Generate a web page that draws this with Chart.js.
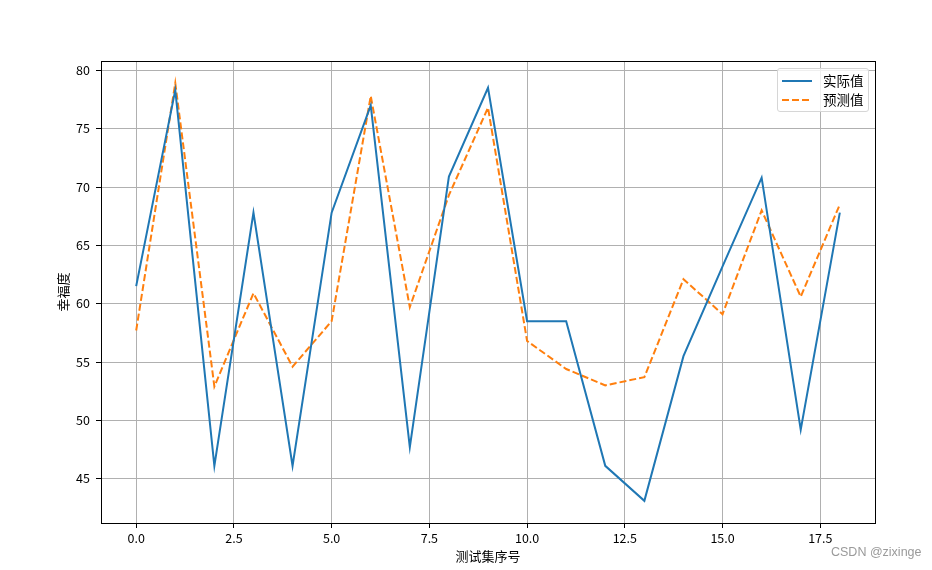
<!DOCTYPE html>
<html>
<head>
<meta charset="utf-8">
<script src="https://cdn.jsdelivr.net/npm/chart.js@4/dist/chart.umd.min.js"></script>
<style>
  body { margin: 0; background: #fff; }
  #wrap { position: relative; width: 932px; height: 570px; font-family: "Noto Sans CJK SC", sans-serif; }
  #legend {
    position: absolute; left: 777px; top: 68px; width: 90px; height: 42px;
    border: 1px solid #d6d6d6; border-radius: 3px; background: rgba(255,255,255,0.8);
    font-size: 13.5px; color: #000;
  }
  .row { position: absolute; left: 3px; height: 20px; line-height: 20px; }
  .row svg { position: absolute; left: 0; top: 0; }
  .row span { position: absolute; left: 42px; top: -1px; white-space: nowrap; }
  #mark { position: absolute; left: 831px; top: 545px; font-size: 12.5px; color: #9a9a9a; font-family: "Liberation Sans", sans-serif; }
</style>
</head>
<body>
<div id="wrap">
  <canvas id="chart" width="932" height="570"></canvas>
  <div id="legend">
    <div class="row" style="top:2px"><svg width="36" height="20"><line x1="1" y1="10" x2="31" y2="10" stroke="#1f77b4" stroke-width="2"/></svg><span>实际值</span></div>
    <div class="row" style="top:21px"><svg width="36" height="20"><line x1="1" y1="10" x2="31" y2="10" stroke="#ff7f0e" stroke-width="2" stroke-dasharray="7,3"/></svg><span>预测值</span></div>
  </div>
  <div id="mark">CSDN @zixinge</div>
</div>
<script>
const sampleNo = [0, 1, 2, 3, 4, 5, 6, 7, 8, 9, 10, 11, 12, 13, 14, 15, 16, 17, 18];
const actual = [61.5, 78.3, 46.1, 67.8, 46.1, 67.8, 77.0, 47.7, 70.9, 78.5, 58.5, 58.5, 46.1, 43.1, 55.5, 63.2, 70.8, 49.2, 67.8];
const predicted = [57.7, 78.9, 52.9, 60.9, 54.6, 58.5, 77.8, 59.7, 69.3, 76.8, 56.8, 54.4, 53.0, 53.7, 62.1, 59.1, 68.0, 60.6, 68.5];
const xTicks = [0, 2.5, 5, 7.5, 10, 12.5, 15, 17.5];
const yTicks = [45, 50, 55, 60, 65, 70, 75, 80];

function toPoints(xs, ys) {
    let pts = [];
    for (let i = 0; i < xs.length; i++) {
        pts.push({x: xs[i], y: ys[i]});
    }
    return pts;
}

// matplotlib draws a black frame round the whole axes
const frame = {
    id: 'frame',
    afterDraw(chart) {
        const a = chart.chartArea;
        const ctx = chart.ctx;
        ctx.save();
        ctx.strokeStyle = '#000';
        ctx.lineWidth = 1;
        ctx.strokeRect(Math.round(a.left) + 0.5, Math.round(a.top) + 0.5,
            Math.round(a.right - a.left), Math.round(a.bottom - a.top));
        ctx.restore();
    }
};

const tickFont = {family: 'Noto Sans CJK SC', size: 12.5};
const titleFont = {family: 'Noto Sans CJK SC', size: 13};

new Chart(document.getElementById('chart'), {
    type: 'line',
    data: {
        datasets: [{
            label: '实际值',
            data: toPoints(sampleNo, actual),
            borderColor: '#1f77b4',
            backgroundColor: '#1f77b4',
            borderWidth: 2,
            pointRadius: 0,
            tension: 0
        }, {
            label: '预测值',
            data: toPoints(sampleNo, predicted),
            borderColor: '#ff7f0e',
            backgroundColor: '#ff7f0e',
            borderWidth: 2,
            borderDash: [7, 3],
            pointRadius: 0,
            tension: 0
        }]
    },
    options: {
        responsive: false,
        animation: false,
        devicePixelRatio: 1,
        layout: {padding: {left: 50, top: 61, right: 57, bottom: 0}},
        plugins: {legend: {display: false}, tooltip: {enabled: false}},
        scales: {
            x: {
                type: 'linear',
                min: -0.9,
                max: 18.9,
                afterBuildTicks: (axis) => { axis.ticks = xTicks.map(v => ({value: v})); },
                afterFit: (scale) => { scale.height = 47; },
                ticks: {
                    color: '#000', font: tickFont, padding: 3, maxRotation: 0,
                    callback: (v) => v.toFixed(1)
                },
                grid: {color: '#b0b0b0', lineWidth: 1, tickColor: '#000', tickLength: 5},
                border: {display: false},
                title: {display: true, text: '测试集序号', color: '#000', font: titleFont, padding: {top: 0, bottom: 6}}
            },
            y: {
                min: 41.2,
                max: 80.8,
                afterBuildTicks: (axis) => { axis.ticks = yTicks.map(v => ({value: v})); },
                afterFit: (scale) => { scale.width = 51; },
                ticks: {color: '#000', font: tickFont, padding: 6},
                grid: {color: '#b0b0b0', lineWidth: 1, tickColor: '#000', tickLength: 5},
                border: {display: false},
                title: {display: true, text: '幸福度', color: '#000', font: titleFont, padding: {top: 5, bottom: 0}}
            }
        }
    },
    plugins: [frame]
});
</script>
</body>
</html>
